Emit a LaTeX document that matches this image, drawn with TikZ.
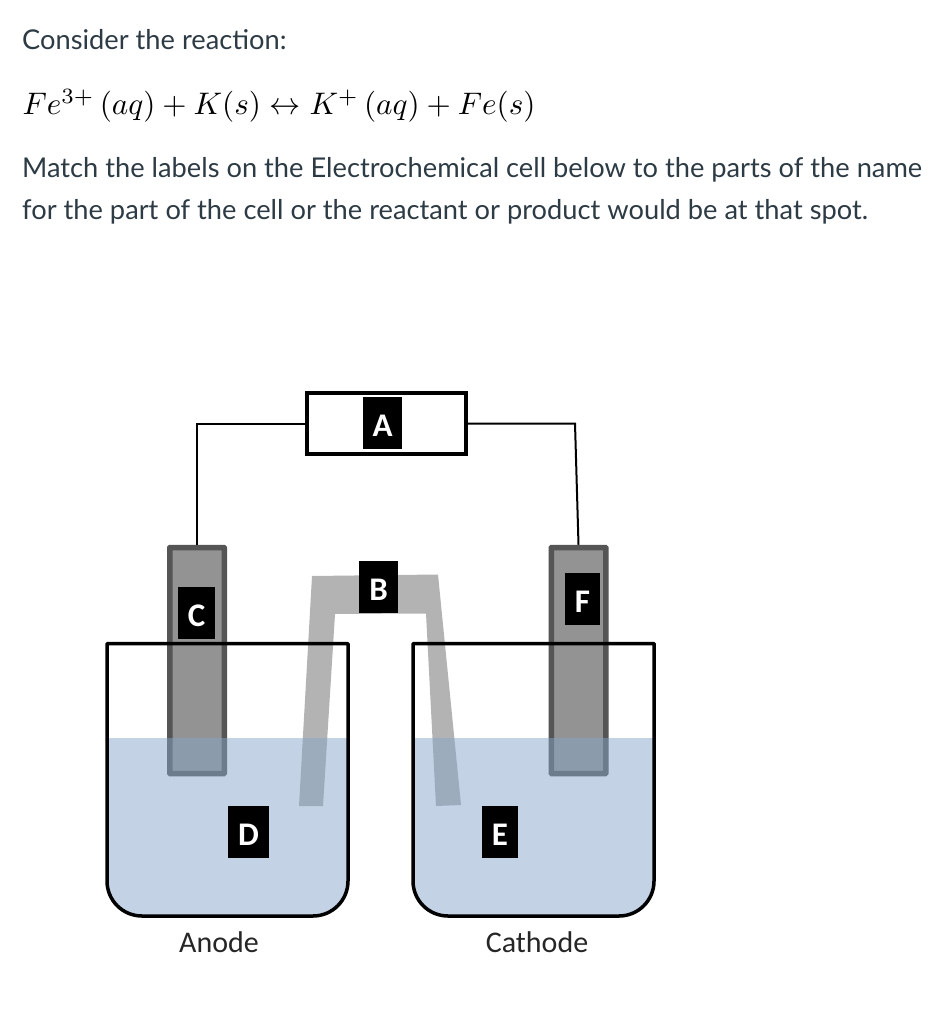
\documentclass[tikz,border=0pt]{standalone}
\usepackage{fontspec}
\setmainfont{Lato}
\newfontfamily\calib{Carlito}
\definecolor{canvastext}{HTML}{2D3B45}
\definecolor{waterblue}{RGB}{133,165,200}
\definecolor{bridgegray}{HTML}{B3B3B3}
\definecolor{rodfill}{HTML}{939393}
\definecolor{rodedge}{HTML}{555555}
\tikzset{
  para/.style={anchor=base west,inner sep=0,text=canvastext,font=\fontsize{27.25}{33}\selectfont},
  tag/.style={fill=black,text=white,inner sep=0,minimum height=52pt,text height=26pt,text depth=0pt,font=\calib\bfseries\fontsize{33}{33}\selectfont},
  rod/.style={draw=rodedge,fill=rodfill,line width=5.5pt,rounded corners=0.5pt,minimum width=54.5pt,minimum height=226pt,inner sep=0},
  wire/.style={draw=black,line width=2pt},
  glass/.style={draw=black,line width=3.5pt,line join=round},
  water/.style={fill=waterblue,fill opacity=0.49},
  caption/.style={inner sep=0,font=\calib\fontsize{30}{30}\selectfont,text=black!85},
}
\begin{document}
\begin{tikzpicture}[x=1pt,y=-1pt]
\useasboundingbox (0,0) rectangle (949,1024);
\fill[white] (0,0) rectangle (949,1024);
\node[para] (t1) at (22,50) {Consider the reaction:};
\node[para,text=black,font=\normalsize,scale=3.115] (t2) at (22,115) {$Fe^{3+}\,(aq)+K(s)\leftrightarrow K^{+}\,(aq)+Fe(s)$};
\node[para] (t3) at (22,178) {Match the labels on the Electrochemical cell below to the parts of the name};
\node[para] (t4) at (22,220) {for the part of the cell or the reactant or product would be at that spot.};
% electrodes
\node[rod] (elecL) at (197,660.5) {};
\node[rod] (elecR) at (578.5,660.5) {};
% salt bridge
\fill[bridgegray] (299,806) -- (312,576) -- (438,574.5) -- (461,805) -- (436,806) -- (426,613.5) -- (335,614) -- (323,806) -- cycle;
% solution
\fill[water] (108,738) -- (347,738) -- (347,881) arc[start angle=0,end angle=90,radius=34] -- (142,915) arc[start angle=90,end angle=180,radius=34] -- cycle;
\fill[water] (414,738) -- (653,738) -- (653,881) arc[start angle=0,end angle=90,radius=34] -- (448,915) arc[start angle=90,end angle=180,radius=34] -- cycle;
% beakers
\draw[glass] (107,643.5) -- (348,643.5) -- (348,881) arc[start angle=0,end angle=90,radius=35] -- (142,916) arc[start angle=90,end angle=180,radius=35] -- cycle;
\draw[glass] (413,643.5) -- (654,643.5) -- (654,881) arc[start angle=0,end angle=90,radius=35] -- (448,916) arc[start angle=90,end angle=180,radius=35] -- cycle;
% meter and wires
\node[draw=black,line width=4pt,minimum width=159pt,minimum height=61pt,inner sep=0] (meter) at (386.5,423.5) {};
\coordinate (bendR) at (575,423.5);
\draw[wire] (elecL.north) |- (meter.west);
\draw[wire] (meter.east) -- (bendR) -- (elecR.north);
% labels
\node[tag,minimum width=39pt] (A) at (382.5,423) {A};
\node[tag,minimum width=39pt] (B) at (378.5,587) {B};
\node[tag,minimum width=37pt] (C) at (196.5,613) {C};
\node[tag,minimum width=41pt] (D) at (248.5,832) {D};
\node[tag,minimum width=36pt] (E) at (500,832) {E};
\node[tag,minimum width=35pt] (F) at (582.5,599) {F};
\node[caption] (anode) at (219,942) {Anode};
\node[caption] (cathode) at (537,942) {Cathode};
\end{tikzpicture}
\end{document}
